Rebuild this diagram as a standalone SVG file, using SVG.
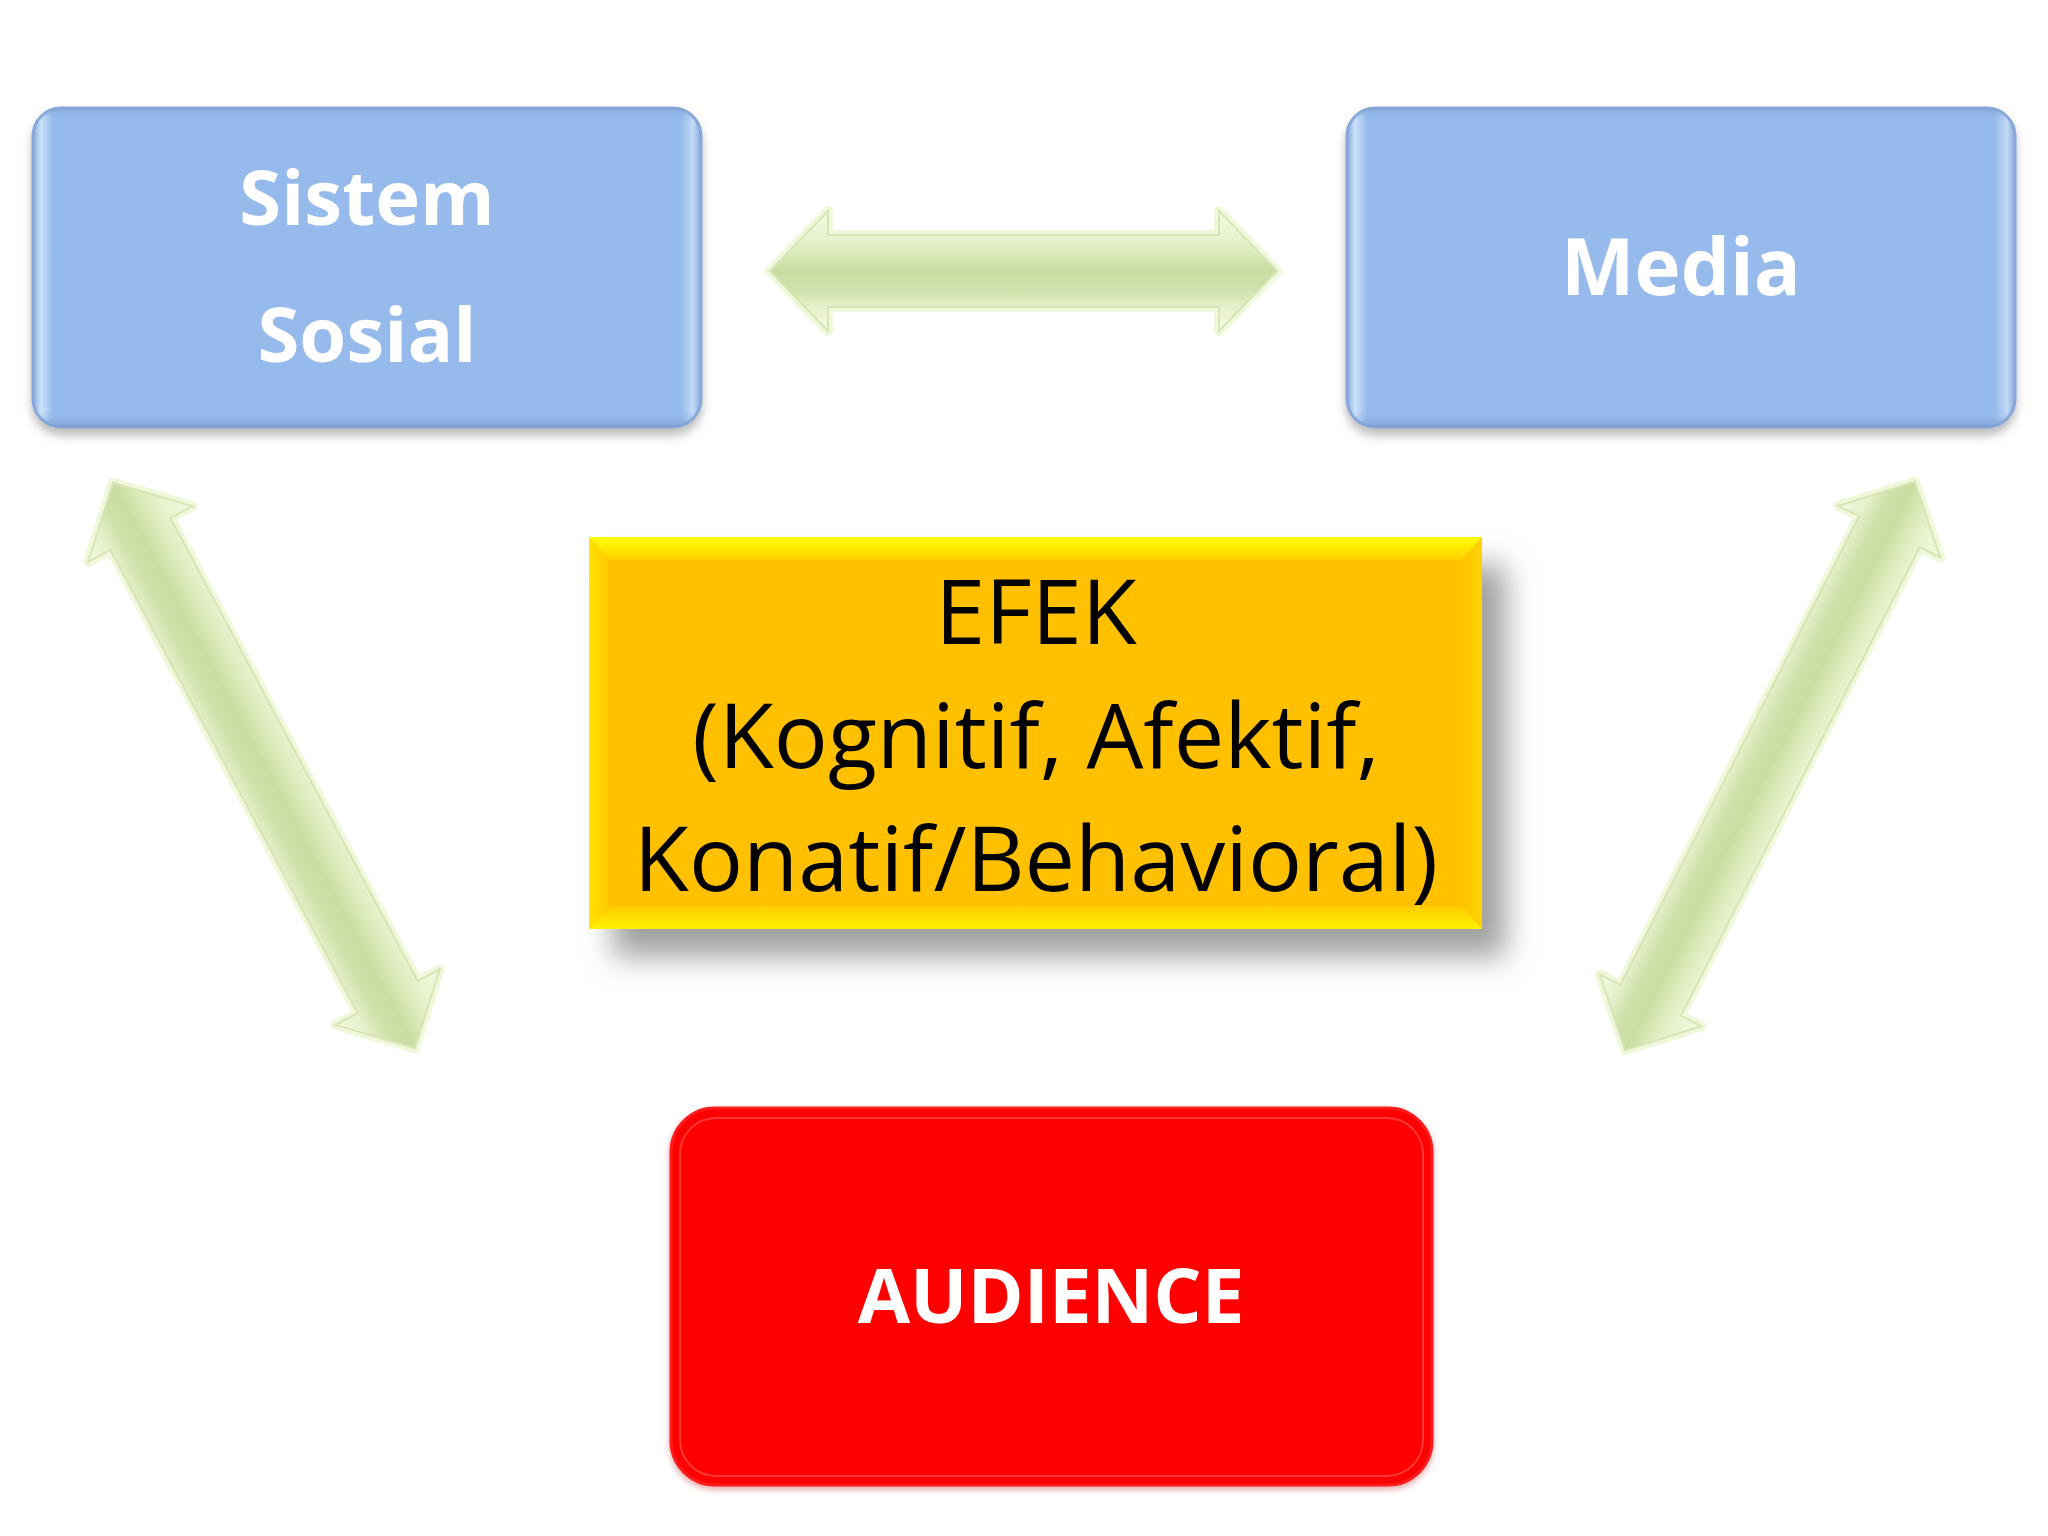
<svg xmlns="http://www.w3.org/2000/svg" width="2048" height="1536" viewBox="0 0 2048 1536">
<defs>
  <style>
    .blueT { font-family: "Open Sans", "Liberation Sans", sans-serif; font-weight: 700; font-size: 78px; fill: #FFFFFF; text-anchor: middle; }
    .efekT { font-family: "Open Sans", "Liberation Sans", sans-serif; font-weight: 400; font-size: 90px; fill: #000000; text-anchor: middle; }
    .audT { font-family: "Open Sans", "Liberation Sans", sans-serif; font-weight: 700; font-size: 76px; fill: #FFFFFF; text-anchor: middle; }
    .arrow { fill: url(#arrowGrad); stroke: #D6E5B3; stroke-width: 2; }
    .arrowGlow { fill: none; stroke: #F0F7DB; stroke-width: 10; stroke-linejoin: round; }
  </style>
  <linearGradient id="arrowGrad" x1="0" y1="0" x2="0" y2="1">
    <stop offset="0" stop-color="#F3F9E2"/>
    <stop offset="0.22" stop-color="#E8F2CD"/>
    <stop offset="0.36" stop-color="#DAE9B9"/>
    <stop offset="0.5" stop-color="#C8DCA2"/>
    <stop offset="0.66" stop-color="#CFE1AC"/>
    <stop offset="0.8" stop-color="#E6F0CA"/>
    <stop offset="1" stop-color="#F3F9E2"/>
  </linearGradient>
  <linearGradient id="blueH" x1="0" y1="0" x2="1" y2="0">
    <stop offset="0" stop-color="#86A8DA"/>
    <stop offset="0.012" stop-color="#CDE2F9"/>
    <stop offset="0.03" stop-color="#96BAEC"/>
    <stop offset="0.97" stop-color="#96BAEC"/>
    <stop offset="0.988" stop-color="#C3DAF6"/>
    <stop offset="1" stop-color="#86A8DA"/>
  </linearGradient>
  <linearGradient id="blueV" x1="0" y1="0" x2="0" y2="1">
    <stop offset="0" stop-color="#7D9ED0" stop-opacity="0.6"/>
    <stop offset="0.04" stop-color="#96BAEC" stop-opacity="0"/>
    <stop offset="0.95" stop-color="#96BAEC" stop-opacity="0"/>
    <stop offset="1" stop-color="#7595C6" stop-opacity="0.7"/>
  </linearGradient>
  <linearGradient id="bevTop" x1="0" y1="0" x2="0" y2="1">
    <stop offset="0" stop-color="#FFFF00"/>
    <stop offset="1" stop-color="#FFD000"/>
  </linearGradient>
  <linearGradient id="bevBot" x1="0" y1="1" x2="0" y2="0">
    <stop offset="0" stop-color="#FFF200"/>
    <stop offset="1" stop-color="#FFCC00"/>
  </linearGradient>
  <linearGradient id="bevLeft" x1="0" y1="0" x2="1" y2="0">
    <stop offset="0" stop-color="#FFE400"/>
    <stop offset="1" stop-color="#FFC600"/>
  </linearGradient>
  <linearGradient id="bevRight" x1="1" y1="0" x2="0" y2="0">
    <stop offset="0" stop-color="#FFD400"/>
    <stop offset="1" stop-color="#FFC400"/>
  </linearGradient>
  <filter id="blueShadow" x="-10%" y="-10%" width="120%" height="125%">
    <feDropShadow dx="0" dy="7" stdDeviation="5" flood-color="#7A7A7A" flood-opacity="0.5"/>
  </filter>
  <filter id="efekShadow" x="-10%" y="-10%" width="125%" height="130%">
    <feDropShadow dx="24" dy="28" stdDeviation="15" flood-color="#808080" flood-opacity="0.75"/>
  </filter>
  <filter id="redShadow" x="-5%" y="-5%" width="110%" height="112%">
    <feDropShadow dx="0" dy="3" stdDeviation="3" flood-color="#B00000" flood-opacity="0.35"/>
  </filter>
</defs>

<rect x="0" y="0" width="2048" height="1536" fill="#FFFFFF"/>

<g id="connectors">
  <g id="arrow-sistem-media" transform="translate(1023.5,271)">
    <path class="arrowGlow" d="M -253.5 0 L -195.5 -60 L -195.5 -36 L 195.5 -36 L 195.5 -60 L 253.5 0 L 195.5 60 L 195.5 36 L -195.5 36 L -195.5 60 Z"/>
    <path class="arrow" d="M -253.5 0 L -195.5 -60 L -195.5 -36 L 195.5 -36 L 195.5 -60 L 253.5 0 L 195.5 60 L 195.5 36 L -195.5 36 L -195.5 60 Z"/>
  </g>
  <g id="arrow-sistem-audience" transform="translate(264,765.5) rotate(61.9)">
    <path class="arrowGlow" d="M -320.5 0 L -262.5 -59 L -262.5 -34 L 262.5 -34 L 262.5 -59 L 320.5 0 L 262.5 59 L 262.5 34 L -262.5 34 L -262.5 59 Z"/>
    <path class="arrow" d="M -320.5 0 L -262.5 -59 L -262.5 -34 L 262.5 -34 L 262.5 -59 L 320.5 0 L 262.5 59 L 262.5 34 L -262.5 34 L -262.5 59 Z"/>
  </g>
  <g id="arrow-media-audience" transform="translate(1770,766) rotate(117)">
    <path class="arrowGlow" d="M -319 0 L -263 -57 L -263 -34 L 263 -34 L 263 -57 L 319 0 L 263 57 L 263 34 L -263 34 L -263 57 Z"/>
    <path class="arrow" d="M -319 0 L -263 -57 L -263 -34 L 263 -34 L 263 -57 L 319 0 L 263 57 L 263 34 L -263 34 L -263 57 Z"/>
  </g>
</g>

<g id="node-sistem-sosial">
  <rect x="33" y="108" width="668" height="319" rx="28" fill="url(#blueH)" stroke="#86A8DA" stroke-width="3" filter="url(#blueShadow)"/>
  <rect x="33" y="108" width="668" height="319" rx="28" fill="url(#blueV)"/>
  <text class="blueT" x="367" y="225" style="font-size:76px">Sistem</text>
  <text class="blueT" x="367" y="362" style="font-size:76px">Sosial</text>
</g>

<g id="node-media">
  <rect x="1347" y="108" width="668" height="319" rx="28" fill="url(#blueH)" stroke="#86A8DA" stroke-width="3" filter="url(#blueShadow)"/>
  <rect x="1347" y="108" width="668" height="319" rx="28" fill="url(#blueV)"/>
  <text class="blueT" x="1681" y="295">Media</text>
</g>

<g id="node-efek">
  <rect x="589" y="537" width="893" height="392" fill="#FFC000" filter="url(#efekShadow)"/>
  <polygon points="589,537 1482,537 1462,560 609,560" fill="url(#bevTop)"/>
  <polygon points="589,929 1482,929 1462,906 609,906" fill="url(#bevBot)"/>
  <polygon points="589,537 609,560 609,906 589,929" fill="url(#bevLeft)"/>
  <polygon points="1482,537 1462,560 1462,906 1482,929" fill="url(#bevRight)"/>
  <text class="efekT" x="1036" y="644">EFEK</text>
  <text class="efekT" x="1036" y="768">(Kognitif, Afektif,</text>
  <text class="efekT" x="1036" y="891">Konatif/Behavioral)</text>
</g>

<g id="node-audience">
  <rect x="671" y="1108" width="761" height="377" rx="44" fill="#FF0000" stroke="#FF1A1A" stroke-width="3" filter="url(#redShadow)"/>
  <rect x="680" y="1118" width="743" height="358" rx="36" fill="none" stroke="#FF5A5A" stroke-width="2" stroke-opacity="0.6"/>
  <text class="audT" x="1051" y="1323">AUDIENCE</text>
</g>
</svg>
